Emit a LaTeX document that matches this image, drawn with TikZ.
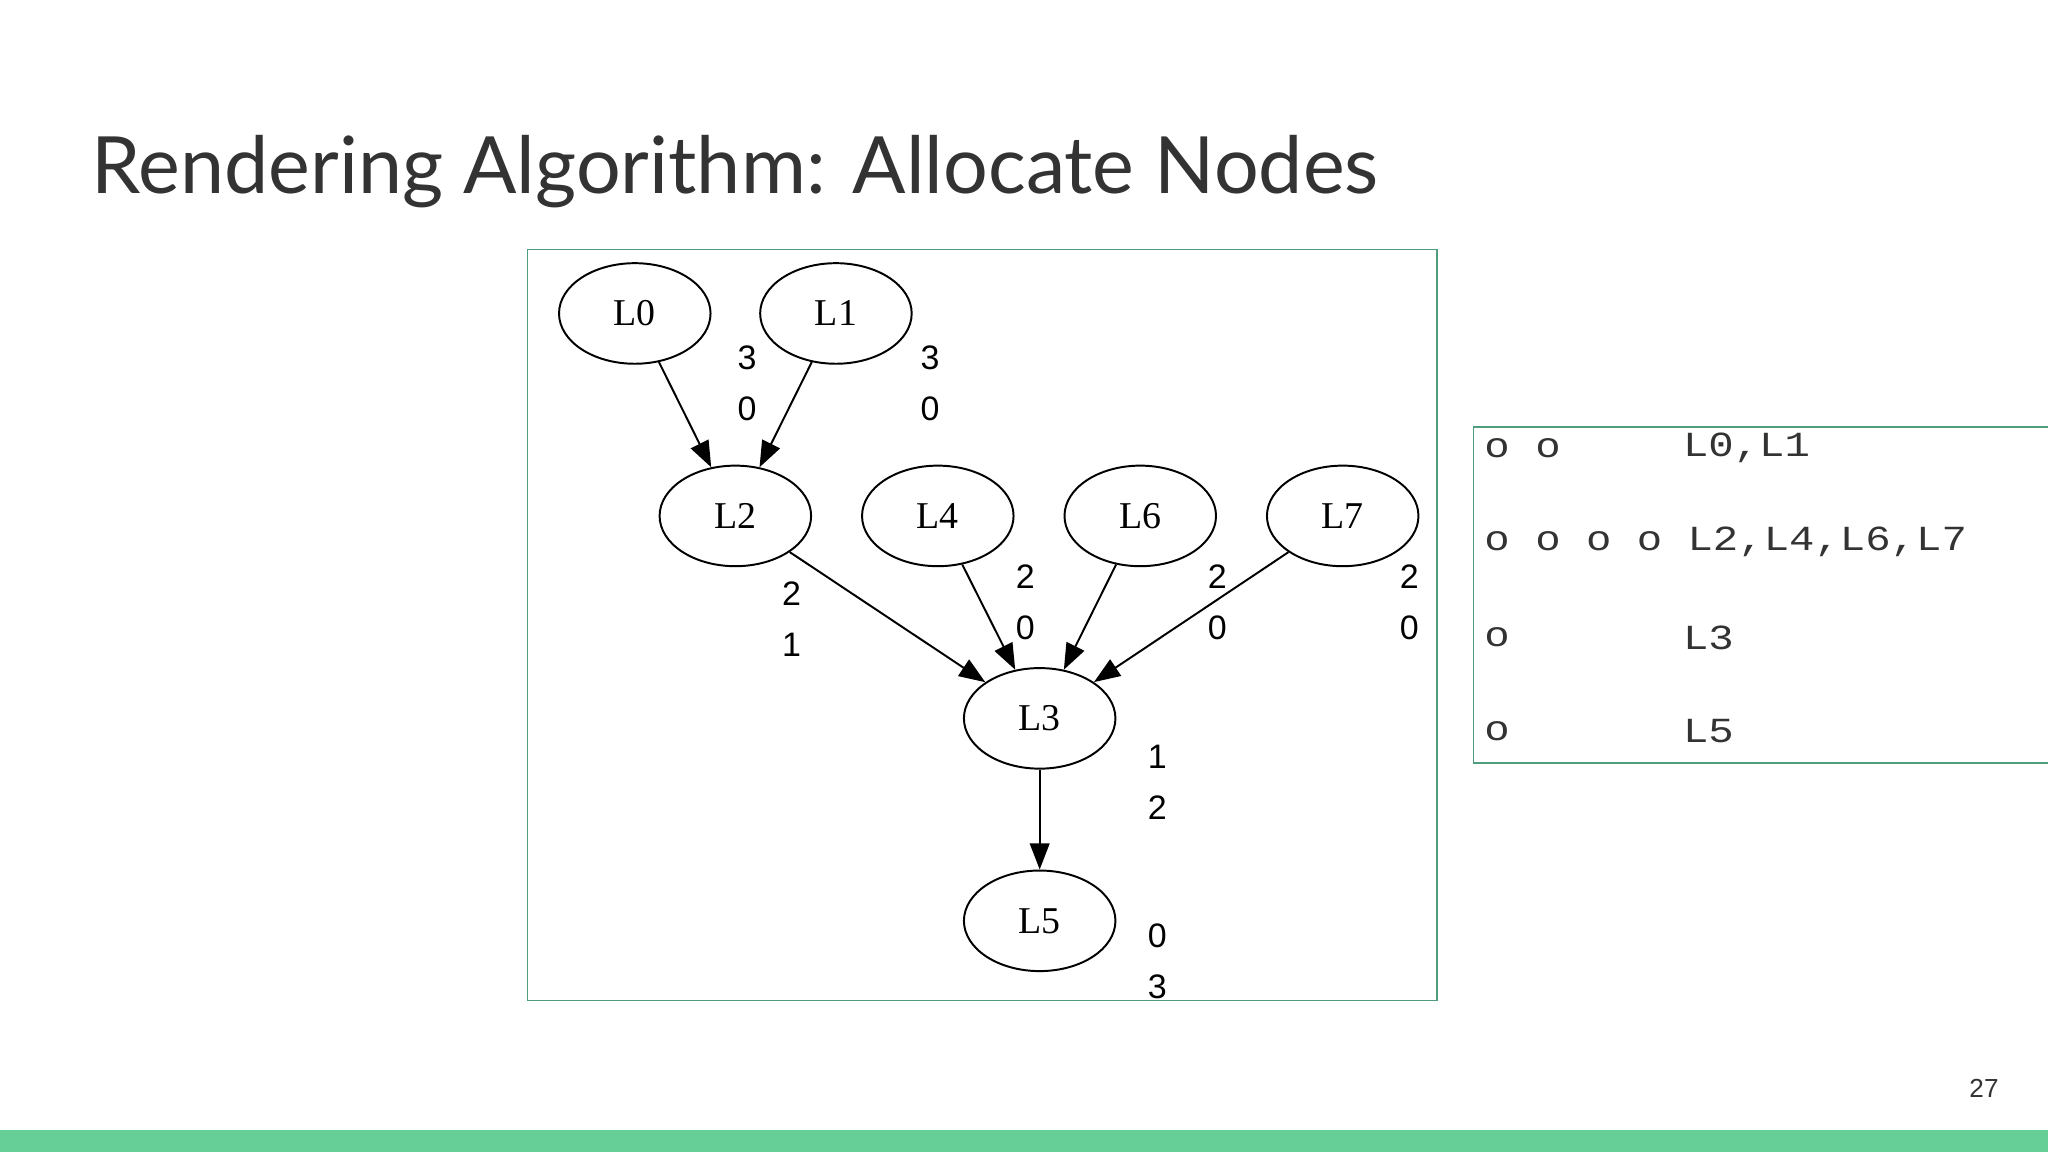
\documentclass[tikz,border=0pt]{standalone}
\usepackage{fontspec}
\setmainfont{Liberation Serif}
\newfontfamily\titlefont{Lato}
\newfontfamily\numfont{Liberation Sans}
\newfontfamily\monofont[FakeStretch=1.2]{Liberation Mono}
\usetikzlibrary{arrows.meta,shapes.geometric}
\definecolor{gbar}{HTML}{66CF98}
\definecolor{gframe}{HTML}{4E9E7E}
\definecolor{tgray}{HTML}{333333}
\begin{document}
\begin{tikzpicture}[x=1pt,y=-1pt,
  gnode/.style={draw,ellipse,minimum width=116pt,minimum height=77pt,inner sep=0pt,line width=1.5pt,font=\fontsize{29}{29}\selectfont},
  edge/.style={line width=1.5pt,-{Triangle[length=20pt,width=15pt]}},
  num/.style={font=\numfont\fontsize{26}{39}\selectfont,align=center,anchor=north},
  row/.style={font=\monofont\fontsize{27}{27}\selectfont,anchor=west,text=black!80}]
\useasboundingbox (0,0) rectangle (1568,882);
\fill[white] (0,0) rectangle (1568,882);
\fill[gbar] (0,865) rectangle (1568,882);
\node[anchor=base west,inner sep=0pt,text=tgray,font=\titlefont\fontsize{60.5}{60.5}\selectfont] (title) at (70,148) {Rendering Algorithm: Allocate Nodes};
\node[text=tgray,font=\numfont\fontsize{20}{20}\selectfont] (pg) at (1519,833) {27};
\draw[gframe,line width=1.2pt] (404,191) rectangle (1100,766);
\node[gnode] (L0) at (486,240) {L0};
\node[gnode] (L1) at (640,240) {L1};
\node[gnode] (L2) at (563,395) {L2};
\node[gnode] (L4) at (718,395) {L4};
\node[gnode] (L6) at (873,395) {L6};
\node[gnode] (L7) at (1028,395) {L7};
\node[gnode] (L3) at (796,550) {L3};
\node[gnode] (L5) at (796,705) {L5};
\draw[edge] (L0) -- (L2);
\draw[edge] (L1) -- (L2);
\draw[edge] (L2) -- (L3);
\draw[edge] (L4) -- (L3);
\draw[edge] (L6) -- (L3);
\draw[edge] (L7) -- (L3);
\draw[edge] (L3) -- (L5);
\node[num] (n0) at (572,261) {3\\0};
\node[num] (n1) at (712,261) {3\\0};
\node[num] (n2) at (606,442) {2\\1};
\node[num] (n4) at (785,429) {2\\0};
\node[num] (n6) at (932,429) {2\\0};
\node[num] (n7) at (1079,429) {2\\0};
\node[num] (n3) at (886,567) {1\\2};
\node[num] (n5) at (886,704) {0\\3};
\draw[gframe,line width=1.2pt] (1600,327) -- (1128,327) -- (1128,584) -- (1600,584);
\node[row] (r1) at (1133,343) {o o};
\node[row] (r1b) at (1285,343) {L0,L1};
\node[row] (r2) at (1133,415) {o o o o L2,L4,L6,L7};
\node[row] (r3) at (1133,488) {o};
\node[row] (r3b) at (1285,488) {L3};
\node[row] (r4) at (1133,560) {o};
\node[row] (r4b) at (1285,560) {L5};
\end{tikzpicture}
\end{document}
